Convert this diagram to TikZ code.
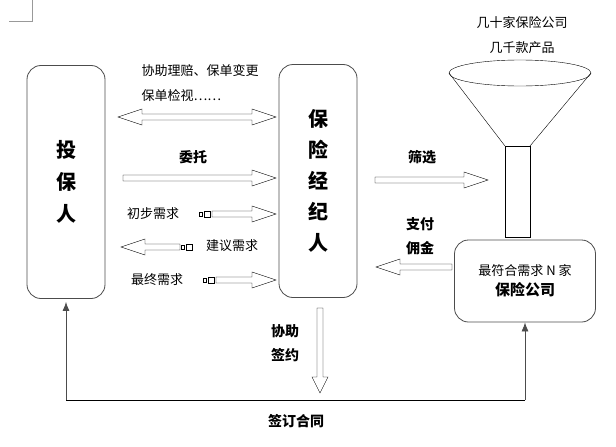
\documentclass[tikz,border=0pt]{standalone}
\usepackage{fontspec}
\setmainfont{Noto Sans CJK SC}
\usetikzlibrary{arrows.meta}
\newcommand{\rarrow}[3]{% x1 x2 y : hollow block arrow pointing right
  \draw[thin,fill=white] (#1,#3-3) -- (#2-24,#3-3) -- (#2-24,#3-8) -- (#2,#3) -- (#2-24,#3+8) -- (#2-24,#3+3) -- (#1,#3+3) -- cycle;}
\newcommand{\larrow}[3]{% x1 x2 y : hollow block arrow pointing left to x2
  \draw[thin,fill=white] (#1,#3-3) -- (#2+24,#3-3) -- (#2+24,#3-8) -- (#2,#3) -- (#2+24,#3+8) -- (#2+24,#3+3) -- (#1,#3+3) -- cycle;}
\newcommand{\tailsq}[2]{% x y : two little squares
  \draw[thin] (#1,#2-2) rectangle ++(3,4);
  \draw[thin] (#1+5,#2-3) rectangle ++(6,6);}
\begin{document}
\begin{tikzpicture}[x=1pt,y=-1pt]
  \tikzstyle{party}=[draw=black!70,thick,rounded corners=14pt]
  \tikzstyle{big}=[font=\fontsize{20}{30}\selectfont\bfseries,align=center]
  \tikzstyle{lbl}=[font=\fontsize{13}{25}\selectfont,align=left]
  \tikzstyle{blbl}=[font=\fontsize{14}{24}\selectfont\bfseries,align=center]
  \tikzstyle{link}=[draw=black!70,thick,-{Latex[length=9pt,width=7pt]}]
  \useasboundingbox (0,0) rectangle (616,447);
  % margin mark
  \draw[black!40] (32,0) -- (32,21) -- (9,21);
  % the three parties
  \node[party,minimum width=78pt,minimum height=233pt] (client) at (66,182) {};
  \node[big] at (client) {投\\[2pt]保\\[2pt]人};
  \node[party,minimum width=78pt,minimum height=233pt] (broker) at (318,181) {};
  \node[big] at (broker) {保\\[1pt]险\\[1pt]经\\[1pt]纪\\[1pt]人};
  \node[party,minimum width=141pt,minimum height=82pt] (insurer) at (525,281) {};
  \node[align=center] at (insurer) {\fontsize{13}{22}\selectfont 最符合需求 N 家\\[5pt] \fontsize{15}{22}\selectfont\bfseries 保险公司};
  % funnel
  \draw[thin] (449,73) -- (505,146) (591,73) -- (530,146);
  \draw[thin] (520,73) ellipse (71 and 13);
  \draw[thin,fill=white] (505,146) rectangle (530,237);
  \node[lbl,align=center] at (522,35) {几十家保险公司\\几千款产品};
  % arrows between client and broker
  \node[lbl] at (200,83) {协助理赔、保单变更\\保单检视……};
  \draw[thin,fill=white] (118,117) -- (142,109) -- (142,114) -- (252,114) -- (252,109) -- (276,117)
    -- (252,125) -- (252,120) -- (142,120) -- (142,125) -- cycle;
  \node[blbl] at (193,157) {委托};
  \rarrow{123}{276}{178}
  \node[lbl] at (153,214) {初步需求};
  \tailsq{199}{214}
  \rarrow{212}{276}{214}
  \node[lbl] at (232,246) {建议需求};
  \larrow{180}{121}{247}
  \tailsq{181}{247}
  \node[lbl] at (157,280) {最终需求};
  \tailsq{203}{280}
  \rarrow{216}{276}{280}
  % broker and insurers
  \node[blbl] at (422,157) {筛选};
  \rarrow{375}{488}{180}
  \node[blbl] at (420,236) {支付\\佣金};
  \larrow{452}{376}{267}
  % signing
  \node[blbl] at (285,343) {协助\\签约};
  \draw[thin,fill=white] (317,308) -- (323,308) -- (323,377) -- (328,377) -- (320,393) -- (312,377) -- (317,377) -- cycle;
  \coordinate (contract) at (320,400);
  \draw[thin] (client.south |- contract) -- (insurer.south |- contract);
  \draw[link] (client.south |- contract) -- ([yshift=-3pt]client.south);
  \draw[link] (insurer.south |- contract) -- (insurer.south);
  \node[blbl] at (296,421) {签订合同};
\end{tikzpicture}
\end{document}
